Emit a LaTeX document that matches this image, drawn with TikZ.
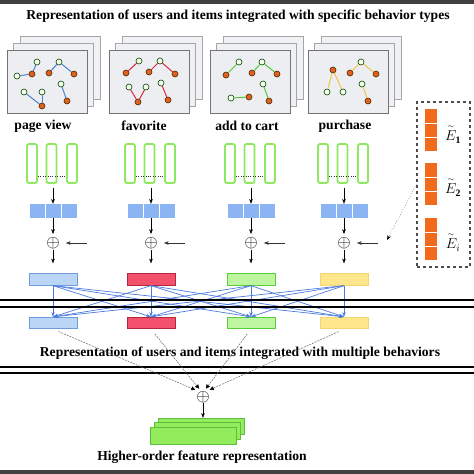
\documentclass[tikz,border=0pt]{standalone}
\usepackage{fontspec}
\setmainfont{Liberation Serif}
\usetikzlibrary{arrows.meta}

\definecolor{panelgray}{HTML}{ECEEF1}
\definecolor{nodeorange}{HTML}{E0601E}
\definecolor{nodegreen}{HTML}{F4FFE8}
\definecolor{pvedge}{HTML}{4F7FD0}
\definecolor{favedge}{HTML}{D8283C}
\definecolor{cartedge}{HTML}{52C83A}
\definecolor{buyedge}{HTML}{F2C24A}
\definecolor{slotgreen}{HTML}{8EE860}
\definecolor{cellblue}{HTML}{8DB4F2}
\definecolor{pvbar}{HTML}{BBD5F7}
\definecolor{pvbarD}{HTML}{6F9BDB}
\definecolor{favbar}{HTML}{F2506B}
\definecolor{favbarD}{HTML}{B0283C}
\definecolor{cartbar}{HTML}{BDF5A0}
\definecolor{cartbarD}{HTML}{5ACD3A}
\definecolor{buybar}{HTML}{FDE68C}
\definecolor{buybarD}{HTML}{F4D572}
\definecolor{linkblue}{HTML}{4C7BE0}
\definecolor{featgreen}{HTML}{92EC5C}
\definecolor{featgreenD}{HTML}{5CBF3A}
\definecolor{embred}{HTML}{F26A1B}

\begin{document}
\begin{tikzpicture}[x=1pt,y=-1pt,>=Stealth]
                \tikzstyle{panel}=[draw=black!55,fill=panelgray,line width=0.6pt]
                \tikzstyle{panelback}=[draw=black!35,fill=panelgray!80,line width=0.6pt]
                \tikzstyle{vertex}=[circle,draw=black!75!green,fill=nodegreen,minimum size=6pt,inner sep=0pt,line width=0.6pt]
                \tikzstyle{vertex2}=[circle,draw=black!70!orange,fill=nodeorange,minimum size=6pt,inner sep=0pt,line width=0.6pt]
                \tikzstyle{slot}=[draw=slotgreen,fill=white,rounded corners=2pt,line width=1.8pt,minimum width=10pt,minimum height=39pt,inner sep=0pt]
                \tikzstyle{cell}=[fill=cellblue,minimum width=15pt,minimum height=14pt,inner sep=0pt]
                \tikzstyle{bar}=[draw,line width=0.8pt,minimum width=48pt,minimum height=11.5pt,inner sep=0pt]
                \tikzstyle{osum}=[inner sep=0pt,font=\fontsize{17}{17}\selectfont]
                \tikzstyle{link}=[linkblue,line width=0.7pt,-{Stealth[length=5pt,width=3.5pt]}]
                \tikzstyle{merge}=[black!60,line width=0.5pt,dash pattern=on 2pt off 1pt,-{Triangle[length=4pt,width=4pt,black]}]
                \tikzstyle{feat}=[draw=featgreenD,fill=featgreen,line width=0.8pt,minimum width=86pt,minimum height=16.5pt,inner sep=0pt]
                \tikzstyle{emb}=[fill=embred,minimum width=12pt,minimum height=13.5pt,inner sep=0pt]
                \tikzstyle{heading}=[font=\bfseries\fontsize{13.6}{15}\selectfont]
                \tikzstyle{behavior}=[font=\bfseries\fontsize{13.6}{15}\selectfont]
                \tikzstyle{elabel}=[inner sep=0pt,font=\fontsize{14}{14}\selectfont]
                \tikzstyle{tilde}=[inner sep=0pt,font=\fontsize{7}{7}\selectfont]

                \useasboundingbox (0,0) rectangle (474,474);
                \fill[black!75] (0,0) rectangle (474,4);
                \fill[black!75] (0,470) rectangle (474,474);

                \node[heading] (title-top) at (238,16) {Representation of users and items integrated with specific behavior types};

                % behavior graph stacks
                \foreach \x in {7,109,210,308}{
                        \draw[panelback] (\x+13,36) rectangle +(80,63);
                        \draw[panelback] (\x+6.5,43) rectangle +(80,63);
                        \draw[panel] (\x,50) rectangle +(80,63);
                }
                \foreach \num/\x/\name in {1/43/page view, 2/144/favorite, 3/247/add to cart, 4/345/purchase}
                        \node[behavior] (L-\num) at (\x,126) {\name};

                % page view
                \foreach \num/\x/\y in {1/37/62, 3/17/76, 4/59/62, 7/24/92, 8/42/92, 10/61/84}
                        \node[vertex] (A-\num) at (\x,\y) {};
                \foreach \num/\x/\y in {2/32/74, 5/49/73, 6/74/74, 9/42/106, 11/67/101}
                        \node[vertex2] (A-\num) at (\x,\y) {};
                \foreach \from/\to in {3/2, 2/1, 5/4, 4/6, 7/9, 8/9, 10/11}
                        \draw[pvedge,line width=1pt] (A-\from) -- (A-\to);

                % favorite
                \foreach \num/\x/\y in {1/139/61, 4/160/61, 7/129/87, 8/146/87, 10/161/83}
                        \node[vertex] (B-\num) at (\x,\y) {};
                \foreach \num/\x/\y in {2/126/73, 5/149/72, 6/175/74, 9/138/102, 11/168/100}
                        \node[vertex2] (B-\num) at (\x,\y) {};
                \foreach \from/\to in {2/1, 5/4, 4/6, 7/9, 8/9, 10/11}
                        \draw[favedge,line width=1pt] (B-\from) -- (B-\to);

                % add to cart
                \foreach \num/\x/\y in {1/239/62, 4/262/62, 7/231/98, 10/263/84}
                        \node[vertex] (C-\num) at (\x,\y) {};
                \foreach \num/\x/\y in {2/226/75, 5/252/73, 6/277/74, 9/249/97, 11/269/101}
                        \node[vertex2] (C-\num) at (\x,\y) {};
                \foreach \from/\to in {2/1, 5/4, 4/6, 7/9, 10/11}
                        \draw[cartedge,line width=1pt] (C-\from) -- (C-\to);

                % purchase
                \foreach \num/\x/\y in {4/361/62, 7/327/92, 8/343/92, 10/362/84}
                        \node[vertex] (P-\num) at (\x,\y) {};
                \foreach \num/\x/\y in {5/350/73, 6/376/74, 9/333/70, 11/368/101}
                        \node[vertex2] (P-\num) at (\x,\y) {};
                \foreach \from/\to in {9/7, 9/8, 5/4, 4/6, 10/11}
                        \draw[buyedge,line width=1pt] (P-\from) -- (P-\to);

                % per-behavior encoders
                \foreach \i/\c/\fillc/\drawc in {1/53/pvbar/pvbarD, 2/151/favbar/favbarD, 3/251/cartbar/cartbarD, 4/344/buybar/buybarD}{
                        \foreach \k/\dx in {1/-21, 2/-1.5, 3/19}
                                \node[slot] (R-\i-\k) at (\c+\dx,163.5) {};
                        \draw[black!80,dotted] ([yshift=8pt]R-\i-1.south east) -- ([yshift=8pt]R-\i-3.south west);
                        \foreach \k/\dx in {1/-16, 2/0, 3/16}
                                \node[cell] (E-\i-\k) at (\c+\dx,211) {};
                        \node[osum] (S-\i) at (\c,243) {$\oplus$};
                        \coordinate (In-\i) at (\c+34,243);
                        \node[bar,fill=\fillc,draw=\drawc] (T-\i) at (\c,279.5) {};
                        \node[bar,fill=\fillc,draw=\drawc] (D-\i) at (\c,323) {};
                        \draw[->,shorten <=4pt] (R-\i-2.south -| E-\i-2.north) -- (E-\i-2.north);
                        \draw[->,shorten >=3pt] (E-\i-2.south) -- (S-\i.north);
                        \draw[->,black!80,shorten >=6pt] (In-\i) -- (S-\i.east);
                        \draw[->,shorten <=1pt,shorten >=10pt] (S-\i.south) -- (T-\i.north);
                }

                \foreach \a in {1,...,4}
                        \foreach \b in {1,...,4}
                                \draw[link] (T-\a.south) -- (D-\b.north);

                \foreach \y in {300,307,367,373}
                        \draw[line width=1.3pt] (0,\y) -- (474,\y);

                % embedding box
                \node[draw=black!70,dashed,line width=1.2pt,minimum width=53pt,minimum height=165pt,inner sep=0pt] (Ebox) at (443.5,184.5) {};
                \foreach \g/\y in {1/116, 2/170, 3/225}
                        \foreach \k in {0,1,2}
                                \node[emb] (X-\g-\k) at (431,\y+14.3*\k) {};
                \foreach \g/\y/\sub in {1/137/\mathbf{1}, 2/190/\mathbf{2}, 3/245/i}{
                        \node[elabel] (Et-\g) at (453,\y) {$E_{\sub}$};
                        \node[tilde] (Tl-\g) at (451,\y-10) {$\sim$};
                }
                \coordinate (Eend) at (387,240);
                \draw[black!60,dotted,line width=0.6pt,-{Stealth[black,length=5pt]}] (Ebox.west) -- (Eend);

                % merging
                \node[heading] (title-mid) at (240,353) {Representation of users and items integrated with multiple behaviors};
                \node[osum] (S) at (203,397) {$\oplus$};
                \foreach \i/\dx in {1/-5, 2/-2, 3/1, 4/4}
                        \draw[merge,shorten <=6pt,shorten >=3pt] (D-\i.south) -- ([xshift=\dx pt]S.north);

                \node[feat] (F-3) at (201,426.5) {};
                \node[feat] (F-2) at (197,431) {};
                \node[feat] (F-1) at (193,436) {};
                \draw[->] (S.south) -- (S.south |- F-3.north);
                \node[heading] (title-bot) at (202,457) {Higher-order feature representation};
\end{tikzpicture}
\end{document}
